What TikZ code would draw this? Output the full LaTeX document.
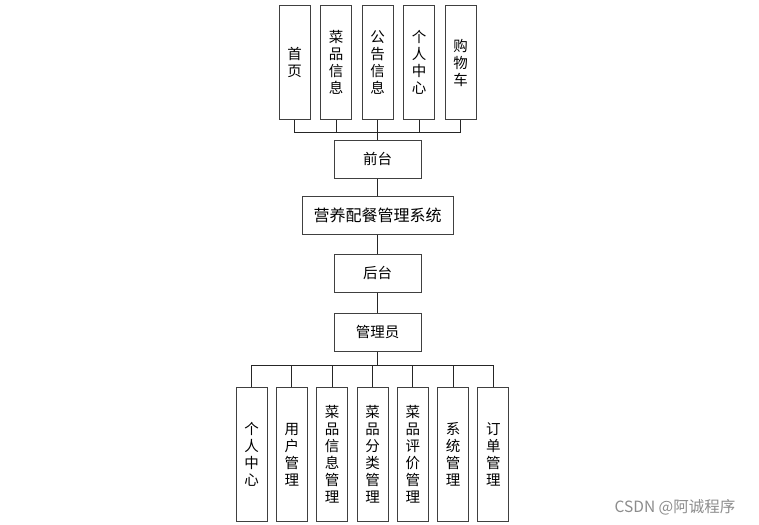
\documentclass[tikz,border=0pt]{standalone}
\usepackage{fontspec}
\setmainfont{Noto Sans CJK SC}
\usetikzlibrary{positioning}

\begin{document}
\begin{tikzpicture}[box/.style={draw=black!75,line width=1pt,fill=white,inner sep=0pt,font=\fontsize{14.5}{17}\selectfont},
  wide/.style={box,minimum width=87pt,minimum height=38pt},
  leaf/.style={box,minimum width=31pt,align=center},
  top/.style={leaf,minimum height=114pt},
  low/.style={leaf,minimum height=134pt},
  bus/.style={draw=black!85,line width=1pt}]
\useasboundingbox (0,0) rectangle (759pt,-524pt);
  \node[box,minimum width=151pt,minimum height=38pt,font=\fontsize{16}{19}\selectfont] (sys) at (377.5pt,-215pt) {营养配餐管理系统};
  \node[wide] (front) [above=17pt of sys] {前台};
  \node[wide] (back) [below=19pt of sys] {后台};
  \node[wide] (admin) [below=20pt of back] {管理员};
   %
  \node[top] (f3) [above=19.5pt of front] {公\\告\\信\\息};
  \node[top] (f2) [left=9.5pt of f3] {菜\\品\\信\\息};
  \node[top] (f1) [left=9.5pt of f2] {首\\页};
  \node[top] (f4) [right=9.5pt of f3] {个\\人\\中\\心};
  \node[top] (f5) [right=9.5pt of f4] {购\\物\\车};
   %
  \node[low] (b4) [below=35.5pt of admin,xshift=-5pt] {菜\\品\\分\\类\\管\\理};
  \node[low] (b3) [left=8.3pt of b4] {菜\\品\\信\\息\\管\\理};
  \node[low] (b2) [left=8.3pt of b3] {用\\户\\管\\理};
  \node[low] (b1) [left=8.3pt of b2] {个\\人\\中\\心};
  \node[low] (b5) [right=8.3pt of b4] {菜\\品\\评\\价\\管\\理};
  \node[low] (b6) [right=8.3pt of b5] {系\\统\\管\\理};
  \node[low] (b7) [right=8.3pt of b6] {订\\单\\管\\理};
   %
\path[bus] (front.north) -- ++(0,7pt) coordinate (tbus)
  (front) -- (sys) (sys) -- (back) (back) -- (admin)
  (admin.south) -- ++(0,-14pt) coordinate (bbus);
\foreach \n in {f1,f2,f3,f4,f5} \draw[bus] (\n.south) |- (tbus);
\foreach \n in {b1,b2,b3,b4,b5,b6,b7} \draw[bus] (\n.north) |- (bbus);
   %
  \node[text=black!45,font=\fontsize{15.5}{18}\selectfont] (mark) at (675pt,-507pt) {CSDN @阿诚程序};
\end{tikzpicture}
\end{document}
